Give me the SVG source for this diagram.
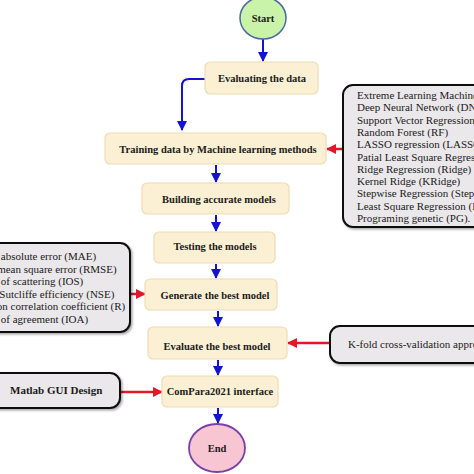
<svg xmlns="http://www.w3.org/2000/svg" width="474" height="474" viewBox="0 0 474 474">
<defs>
<marker id="ab" viewBox="0 0 10 10" refX="9" refY="5" markerWidth="5" markerHeight="5" orient="auto" markerUnits="strokeWidth"><path d="M0,0 L10,5 L0,10 z" fill="#1414d0"/></marker>
<marker id="ar" viewBox="0 0 10 10" refX="9" refY="5" markerWidth="4" markerHeight="4" orient="auto" markerUnits="strokeWidth"><path d="M0,0 L10,5 L0,10 z" fill="#e01828"/></marker>
<filter id="sh" x="-10%" y="-10%" width="130%" height="130%"><feDropShadow dx="1.5" dy="1.5" stdDeviation="1" flood-color="#000" flood-opacity="0.35"/></filter>
</defs>
<style>
.nb{fill:#fcf0d4;stroke:#eedcb2;stroke-width:1.2}
.gb{fill:#ebe8eb;stroke:#111;stroke-width:2;filter:url(#sh)}
.nt{font-family:"Liberation Serif",serif;font-size:10.5px;font-weight:bold;fill:#1a1a1a;text-anchor:middle}
.lt{font-family:"Liberation Serif",serif;font-size:11px;fill:#1a1a1a}
.bl{stroke:#1414d0;stroke-width:2;fill:none;marker-end:url(#ab)}
.rd{stroke:#e01828;stroke-width:2.5;fill:none;marker-end:url(#ar)}
</style>
<rect width="474" height="474" fill="#fff"/>
<g id="connectors">
<line x1="263" y1="39" x2="263" y2="61" class="bl" stroke-width="1.4" stroke="#5555cc"/>
<path d="M205,79 H189 Q182,79 182,86 V130" class="bl" stroke-width="2.2"/>
<line x1="216" y1="165" x2="216" y2="182" class="bl"/>
<line x1="216" y1="215" x2="216" y2="231" class="bl"/>
<line x1="216" y1="264" x2="216" y2="278" class="bl"/>
<line x1="218" y1="311" x2="218" y2="326" class="bl"/>
<line x1="218" y1="360" x2="218" y2="375" class="bl"/>
<line x1="218" y1="408" x2="218" y2="423" class="bl"/>
<line x1="343" y1="149" x2="327" y2="149" class="rd"/>
<line x1="131" y1="294" x2="145" y2="294" class="rd"/>
<line x1="330" y1="343" x2="288" y2="343" class="rd"/>
<line x1="121" y1="392" x2="162" y2="392" class="rd"/>
</g>
<g id="start">
<ellipse cx="263" cy="18" rx="23" ry="21" fill="#c9f3a9" stroke="#4a6aa0" stroke-width="1.5"/>
<text x="263" y="22" class="nt">Start</text>
</g>
<g id="evaluating">
<rect x="205" y="62" width="113" height="32" rx="5" class="nb"/>
<text x="262" y="82" class="nt">Evaluating the data</text>
</g>
<g id="training">
<rect x="105" y="133" width="221" height="31" rx="5" class="nb"/>
<text x="218" y="153" class="nt">Training data by Machine learning methods</text>
</g>
<g id="building">
<rect x="142" y="183" width="147" height="31" rx="5" class="nb"/>
<text x="219" y="203" class="nt">Building accurate models</text>
</g>
<g id="testing">
<rect x="154" y="232" width="121" height="31" rx="5" class="nb"/>
<text x="215" y="250" class="nt">Testing the models</text>
</g>
<g id="generate">
<rect x="145" y="279" width="132" height="31" rx="5" class="nb"/>
<text x="215" y="299" class="nt">Generate the best model</text>
</g>
<g id="evaluate">
<rect x="148" y="327" width="139" height="32" rx="5" class="nb"/>
<text x="217" y="350" class="nt">Evaluate the best model</text>
</g>
<g id="compara">
<rect x="162" y="376" width="116" height="31" rx="5" class="nb"/>
<text x="220" y="395" class="nt">ComPara2021 interface</text>
</g>
<g id="end">
<ellipse cx="217" cy="448" rx="28" ry="24" fill="#f8c6d2" stroke="#7a40a8" stroke-width="1.8"/>
<text x="217" y="452" class="nt" font-weight="normal">End</text>
</g>
<g id="methods">
<rect x="343" y="85" width="150" height="142" rx="10" class="gb"/>
<text class="lt" x="357" y="99">Extreme Learning Machine (ELM)</text>
<text class="lt" x="357" y="111.3">Deep Neural Network (DNN)</text>
<text class="lt" x="357" y="123.6">Support Vector Regression (SVR)</text>
<text class="lt" x="357" y="135.9">Random Forest (RF)</text>
<text class="lt" x="357" y="148.2">LASSO regression (LASSO)</text>
<text class="lt" x="357" y="160.5">Patial Least Square Regression (PLSR)</text>
<text class="lt" x="357" y="172.8">Ridge Regression (Ridge)</text>
<text class="lt" x="357" y="185.1">Kernel Ridge (KRidge)</text>
<text class="lt" x="357" y="197.4">Stepwise Regression (Stepwise)</text>
<text class="lt" x="357" y="209.7">Least Square Regression (LSR)</text>
<text class="lt" x="357" y="222">Programing genetic (PG).</text>
</g>
<g id="metrics">
<rect x="-20" y="243" width="150" height="89" rx="10" class="gb"/>
<text class="lt" x="-27" y="260">Mean absolute error (MAE)</text>
<text class="lt" x="-27" y="272.6">Root mean square error (RMSE)</text>
<text class="lt" x="-27" y="285.2">Index of scattering (IOS)</text>
<text class="lt" x="-27" y="297.8">Nash-Sutcliffe efficiency (NSE)</text>
<text class="lt" x="-27" y="310.4">Pearson correlation coefficient (R)</text>
<text class="lt" x="-27" y="323">Index of agreement (IOA)</text>
</g>
<g id="kfold">
<rect x="330" y="326" width="170" height="37" rx="10" class="gb"/>
<text class="lt" x="348" y="348">K-fold cross-validation approach</text>
</g>
<g id="matlab">
<rect x="-20" y="373" width="140" height="35" rx="10" class="gb"/>
<text class="lt" x="10" y="394" font-weight="bold" font-size="10.5">Matlab GUI Design</text>
</g>
</svg>
